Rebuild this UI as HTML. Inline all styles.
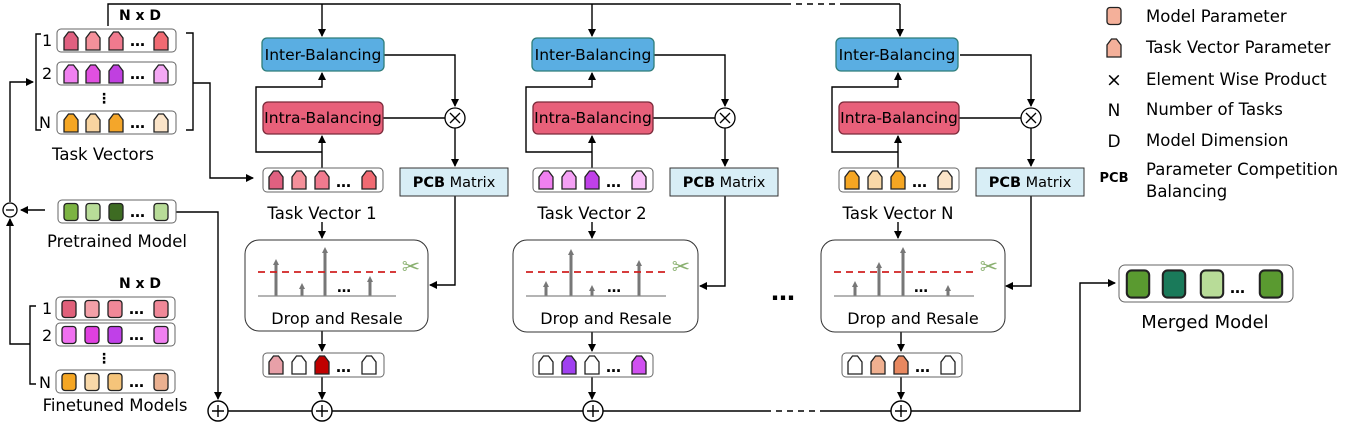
<!DOCTYPE html>
<html><head><meta charset="utf-8"><style>
html,body{margin:0;padding:0;background:#fff;}
svg{display:block;font-family:"DejaVu Sans","Liberation Sans",sans-serif;}
</style></head><body>
<svg width="1357" height="433" viewBox="0 0 1357 433" xmlns="http://www.w3.org/2000/svg">
<defs>
<marker id="a" markerWidth="8" markerHeight="8" refX="7" refY="4" orient="auto" markerUnits="userSpaceOnUse"><path d="M0,0 L8,4 L0,8 Z" fill="#000"/></marker>
<marker id="g" markerWidth="6" markerHeight="6" refX="3" refY="3" orient="auto" markerUnits="userSpaceOnUse"><path d="M0,0 L6,3 L0,6 Z" fill="#777"/></marker>
<symbol id="h" viewBox="0 0 16 20"><path d="M1,19 V7 L5.5,1 H10.5 L15,7 V19 Z" stroke="#222" stroke-width="1.3"/></symbol>
<symbol id="s" viewBox="0 0 16 20"><rect x="1" y="1.5" width="14" height="17" rx="3" stroke="#222" stroke-width="1.3"/></symbol>
</defs>
<g fill="none" stroke="#000" stroke-width="1.4">
<path d="M108,26 V4 H785"/><path d="M785,4 H840" stroke-dasharray="6,5"/><path d="M840,4 H900"/>
<path d="M41,34 H36 V130 H41"/>
<path d="M10,202 V82 H33" marker-end="url(#a)"/>
<path d="M186,33 H193 V130 H186"/>
<path d="M193,83 H210 V178 H253" marker-end="url(#a)"/>
<path d="M45,210 H21" marker-end="url(#a)"/>
<path d="M176,212 H218 V399" marker-end="url(#a)"/>
<path d="M36,306 H30 V384 H36"/>
<path d="M30,344 H10 V219" marker-end="url(#a)"/>
<path d="M228,411 H312"/><path d="M332,411 H583"/><path d="M603,411 H765"/>
<path d="M765,411 H825" stroke-dasharray="6,5"/><path d="M825,411 H891"/>
<path d="M911,411 H1080 V283 H1115" marker-end="url(#a)"/>
</g>
<circle cx="10" cy="210" r="7" fill="#fff" stroke="#000" stroke-width="1.3"/>
<path d="M6,210 H14" stroke="#000" stroke-width="1.3"/>
<circle cx="218" cy="411" r="10" fill="#fff" stroke="#000" stroke-width="1.4"/>
<path d="M212,411 H224 M218,405 V417" stroke="#000" stroke-width="1.4"/>

<g font-size="16.5" fill="#000">
<text x="140" y="20" font-weight="bold" font-size="14" text-anchor="middle">N x D</text>
<text x="42" y="46" font-size="16">1</text><text x="42" y="79" font-size="16">2</text><text x="39" y="128" font-size="16">N</text>
<text x="103" y="160" text-anchor="middle">Task Vectors</text>
<text x="117" y="247" text-anchor="middle">Pretrained Model</text>
<text x="140" y="288" font-weight="bold" font-size="14" text-anchor="middle">N x D</text>
<text x="42" y="314" font-size="16">1</text><text x="42" y="341" font-size="16">2</text><text x="39" y="388" font-size="16">N</text>
<text x="115" y="411" text-anchor="middle">Finetuned Models</text>
</g>
<g fill="#fff" stroke="#666" stroke-width="1">
<rect x="57" y="29" width="119" height="23" rx="4"/><rect x="57" y="62" width="119" height="23" rx="4"/><rect x="57" y="111" width="119" height="23" rx="4"/>
<rect x="58" y="200" width="118" height="23" rx="4"/>
<rect x="56" y="297" width="119" height="23" rx="4"/><rect x="56" y="323" width="119" height="23" rx="4"/><rect x="56" y="370" width="119" height="23" rx="4"/>
</g>
<g>
<use href="#h" x="63" y="31" width="16" height="20" fill="#e06080"/><use href="#h" x="85" y="31" width="16" height="20" fill="#f4909a"/><use href="#h" x="108" y="31" width="16" height="20" fill="#f07a8e"/><use href="#h" x="153" y="31" width="16" height="20" fill="#f06a72"/>
<use href="#h" x="63" y="64" width="16" height="20" fill="#f080f0"/><use href="#h" x="85" y="64" width="16" height="20" fill="#e050e0"/><use href="#h" x="108" y="64" width="16" height="20" fill="#c040e0"/><use href="#h" x="153" y="64" width="16" height="20" fill="#f4a8f4"/>
<use href="#h" x="63" y="113" width="16" height="20" fill="#f5a623"/><use href="#h" x="85" y="113" width="16" height="20" fill="#f8d4a0"/><use href="#h" x="108" y="113" width="16" height="20" fill="#f4a62a"/><use href="#h" x="153" y="113" width="16" height="20" fill="#fbe4c8"/>
<use href="#s" x="63" y="202" width="16" height="20" fill="#7cb342"/><use href="#s" x="85" y="202" width="16" height="20" fill="#b8dc98"/><use href="#s" x="108" y="202" width="16" height="20" fill="#3d6b22"/><use href="#s" x="153" y="202" width="16" height="20" fill="#b8dc98"/>
<use href="#s" x="61" y="299" width="16" height="20" fill="#e0607a"/><use href="#s" x="84" y="299" width="16" height="20" fill="#f4a0a8"/><use href="#s" x="107" y="299" width="16" height="20" fill="#f08898"/><use href="#s" x="153" y="299" width="16" height="20" fill="#f08898"/>
<use href="#s" x="61" y="325" width="16" height="20" fill="#f070f0"/><use href="#s" x="84" y="325" width="16" height="20" fill="#e040e0"/><use href="#s" x="107" y="325" width="16" height="20" fill="#c040e8"/><use href="#s" x="153" y="325" width="16" height="20" fill="#f080f0"/>
<use href="#s" x="61" y="372" width="16" height="20" fill="#f5a623"/><use href="#s" x="84" y="372" width="16" height="20" fill="#f8d8a8"/><use href="#s" x="107" y="372" width="16" height="20" fill="#f5c47a"/><use href="#s" x="153" y="372" width="16" height="20" fill="#eab090"/>
</g>
<g font-size="15" font-weight="bold" fill="#000">
<text x="130" y="46">…</text><text x="130" y="79">…</text><text x="130" y="128">…</text><text x="130" y="217">…</text>
<text x="129" y="314">…</text><text x="129" y="340">…</text><text x="129" y="387">…</text>
<text x="104" y="103" text-anchor="middle" font-size="14">⋮</text><text x="104" y="363" text-anchor="middle" font-size="14">⋮</text>
</g>

<!-- MODULE 1 -->
<g>
<g fill="none" stroke="#000" stroke-width="1.4">
<path d="M322,4 V36" marker-end="url(#a)"/>
<path d="M384,55 H455 V106" marker-end="url(#a)"/>
<path d="M383,118 H445"/>
<path d="M455,128 V166" marker-end="url(#a)"/>
<path d="M322,168 V136" marker-end="url(#a)"/>
<path d="M322,152 H256 V87 H322 V73" marker-end="url(#a)"/>
<path d="M322,222 V238" marker-end="url(#a)"/>
<path d="M455,196 V285 H430" marker-end="url(#a)"/>
<path d="M322,331 V351" marker-end="url(#a)"/>
<path d="M322,377 V399" marker-end="url(#a)"/>
</g>
<rect x="262" y="38" width="122" height="33" rx="5" fill="#5aaee2" stroke="#2e7d7a" stroke-width="1.3"/>
<text x="323" y="60" font-size="15.5" text-anchor="middle">Inter-Balancing</text>
<rect x="263" y="102" width="120" height="32" rx="5" fill="#e8607a" stroke="#7a2a3a" stroke-width="1.3"/>
<text x="323" y="123" font-size="15.5" text-anchor="middle">Intra-Balancing</text>
<circle cx="455" cy="118" r="10" fill="#fff" stroke="#000" stroke-width="1.3"/>
<path d="M450,113 L460,123 M460,113 L450,123" stroke="#000" stroke-width="1.3"/>
<rect x="400" y="168" width="108" height="28" fill="#d8eef6" stroke="#333" stroke-width="1"/>
<text x="454" y="187" font-size="14.5" text-anchor="middle"><tspan font-weight="bold">PCB</tspan> Matrix</text>
<rect x="263" y="168" width="120" height="24" rx="4" fill="#fff" stroke="#666"/>
<rect x="245" y="240" width="183" height="91" rx="14" fill="#fff" stroke="#333" stroke-width="1"/>
<g stroke="#777" stroke-width="3" marker-end="url(#g)"><path d="M276,296 V262"/><path d="M302,296 V286"/><path d="M325,296 V250"/><path d="M370,296 V279"/></g>
<path d="M258,296 H396" stroke="#888" stroke-width="1.2"/>
<path d="M258,272 H396" stroke="#d02020" stroke-width="1.8" stroke-dasharray="7,5"/>
<text x="411" y="274" font-size="22" fill="#8ab070" text-anchor="middle">✂</text>
<text x="337" y="292" font-size="14" font-weight="bold">…</text>
<text x="337" y="324" font-size="16" text-anchor="middle">Drop and Resale</text>
<rect x="263" y="353" width="121" height="24" rx="4" fill="#fff" stroke="#666"/>
<circle cx="322" cy="411" r="10" fill="#fff" stroke="#000" stroke-width="1.4"/>
<path d="M316,411 H328 M322,405 V417" stroke="#000" stroke-width="1.4"/>
</g>
<text x="322" y="219" font-size="16.5" text-anchor="middle">Task Vector 1</text>
<use href="#h" x="268" y="170" width="16" height="20" fill="#e06080"/><use href="#h" x="291" y="170" width="16" height="20" fill="#f4909a"/><use href="#h" x="314" y="170" width="16" height="20" fill="#f07a8e"/><use href="#h" x="361" y="170" width="16" height="20" fill="#f06a72"/>
<text x="336" y="187" font-size="15" font-weight="bold">…</text>
<use href="#h" x="268" y="355" width="16" height="20" fill="#e8a0a8"/><use href="#h" x="291" y="355" width="16" height="20" fill="#fff"/><use href="#h" x="314" y="355" width="16" height="20" fill="#c00000"/><use href="#h" x="361" y="355" width="16" height="20" fill="#fff"/>
<text x="336" y="372" font-size="15" font-weight="bold">…</text>

<!-- MODULE 2 -->
<g transform="translate(270,0)">
<g fill="none" stroke="#000" stroke-width="1.4">
<path d="M322,4 V36" marker-end="url(#a)"/>
<path d="M384,55 H455 V106" marker-end="url(#a)"/>
<path d="M383,118 H445"/>
<path d="M455,128 V166" marker-end="url(#a)"/>
<path d="M322,168 V136" marker-end="url(#a)"/>
<path d="M322,152 H256 V87 H322 V73" marker-end="url(#a)"/>
<path d="M322,222 V238" marker-end="url(#a)"/>
<path d="M455,196 V286 H430" marker-end="url(#a)"/>
<path d="M322,331 V351" marker-end="url(#a)"/>
<path d="M322,377 V399" marker-end="url(#a)"/>
</g>
<rect x="262" y="38" width="122" height="33" rx="5" fill="#5aaee2" stroke="#2e7d7a" stroke-width="1.3"/>
<text x="323" y="60" font-size="15.5" text-anchor="middle">Inter-Balancing</text>
<rect x="263" y="102" width="120" height="32" rx="5" fill="#e8607a" stroke="#7a2a3a" stroke-width="1.3"/>
<text x="323" y="123" font-size="15.5" text-anchor="middle">Intra-Balancing</text>
<circle cx="455" cy="118" r="10" fill="#fff" stroke="#000" stroke-width="1.3"/>
<path d="M450,113 L460,123 M460,113 L450,123" stroke="#000" stroke-width="1.3"/>
<rect x="400" y="168" width="108" height="28" fill="#d8eef6" stroke="#333" stroke-width="1"/>
<text x="454" y="187" font-size="14.5" text-anchor="middle"><tspan font-weight="bold">PCB</tspan> Matrix</text>
<rect x="263" y="168" width="120" height="24" rx="4" fill="#fff" stroke="#666"/>
<rect x="243" y="240" width="185" height="92" rx="14" fill="#fff" stroke="#333" stroke-width="1"/>
<g stroke="#777" stroke-width="3" marker-end="url(#g)"><path d="M276,296 V284"/><path d="M301,296 V252"/><path d="M322,296 V288"/><path d="M369,296 V263"/></g>
<path d="M256,296 H396" stroke="#888" stroke-width="1.2"/>
<path d="M256,272 H396" stroke="#d02020" stroke-width="1.8" stroke-dasharray="7,5"/>
<text x="411" y="274" font-size="22" fill="#8ab070" text-anchor="middle">✂</text>
<text x="337" y="292" font-size="14" font-weight="bold">…</text>
<text x="336" y="324" font-size="16" text-anchor="middle">Drop and Resale</text>
<rect x="263" y="353" width="120" height="24" rx="4" fill="#fff" stroke="#666"/>
<circle cx="323" cy="411" r="10" fill="#fff" stroke="#000" stroke-width="1.4"/>
<path d="M317,411 H329 M323,405 V417" stroke="#000" stroke-width="1.4"/>
<text x="322" y="219" font-size="16.5" text-anchor="middle">Task Vector 2</text>
<use href="#h" x="268" y="170" width="16" height="20" fill="#f080f0"/><use href="#h" x="291" y="170" width="16" height="20" fill="#f4a0f4"/><use href="#h" x="314" y="170" width="16" height="20" fill="#c040e8"/><use href="#h" x="361" y="170" width="16" height="20" fill="#f8c0f8"/>
<text x="336" y="187" font-size="15" font-weight="bold">…</text>
<use href="#h" x="268" y="355" width="16" height="20" fill="#fff"/><use href="#h" x="291" y="355" width="16" height="20" fill="#a040f0"/><use href="#h" x="314" y="355" width="16" height="20" fill="#fff"/><use href="#h" x="361" y="355" width="16" height="20" fill="#d050f0"/>
<text x="336" y="372" font-size="15" font-weight="bold">…</text>
</g>

<text x="783" y="300" font-size="24" font-weight="bold" text-anchor="middle">…</text>

<!-- MODULE 3 -->
<g transform="translate(576,0)">
<g fill="none" stroke="#000" stroke-width="1.4">
<path d="M324,4 V36" marker-end="url(#a)"/>
<path d="M384,55 H455 V106" marker-end="url(#a)"/>
<path d="M383,118 H445"/>
<path d="M455,128 V166" marker-end="url(#a)"/>
<path d="M322,168 V136" marker-end="url(#a)"/>
<path d="M322,152 H256 V87 H322 V73" marker-end="url(#a)"/>
<path d="M322,222 V238" marker-end="url(#a)"/>
<path d="M455,196 V286 H430" marker-end="url(#a)"/>
<path d="M325,331 V351" marker-end="url(#a)"/>
<path d="M325,377 V399" marker-end="url(#a)"/>
</g>
<rect x="260" y="38" width="122" height="33" rx="5" fill="#5aaee2" stroke="#2e7d7a" stroke-width="1.3"/>
<text x="321" y="60" font-size="15.5" text-anchor="middle">Inter-Balancing</text>
<rect x="263" y="102" width="120" height="32" rx="5" fill="#e8607a" stroke="#7a2a3a" stroke-width="1.3"/>
<text x="323" y="123" font-size="15.5" text-anchor="middle">Intra-Balancing</text>
<circle cx="455" cy="118" r="10" fill="#fff" stroke="#000" stroke-width="1.3"/>
<path d="M450,113 L460,123 M460,113 L450,123" stroke="#000" stroke-width="1.3"/>
<rect x="400" y="168" width="108" height="28" fill="#d8eef6" stroke="#333" stroke-width="1"/>
<text x="454" y="187" font-size="14.5" text-anchor="middle"><tspan font-weight="bold">PCB</tspan> Matrix</text>
<rect x="263" y="168" width="120" height="24" rx="4" fill="#fff" stroke="#666"/>
<rect x="245" y="240" width="184" height="92" rx="14" fill="#fff" stroke="#333" stroke-width="1"/>
<g stroke="#777" stroke-width="3" marker-end="url(#g)"><path d="M279,296 V284"/><path d="M303,296 V265"/><path d="M327,296 V250"/><path d="M372,296 V288"/></g>
<path d="M258,296 H398" stroke="#888" stroke-width="1.2"/>
<path d="M258,272 H398" stroke="#d02020" stroke-width="1.8" stroke-dasharray="7,5"/>
<text x="413" y="274" font-size="22" fill="#8ab070" text-anchor="middle">✂</text>
<text x="338" y="292" font-size="14" font-weight="bold">…</text>
<text x="337" y="324" font-size="16" text-anchor="middle">Drop and Resale</text>
<rect x="266" y="353" width="120" height="24" rx="4" fill="#fff" stroke="#666"/>
<circle cx="325" cy="411" r="10" fill="#fff" stroke="#000" stroke-width="1.4"/>
<path d="M319,411 H331 M325,405 V417" stroke="#000" stroke-width="1.4"/>
<text x="322" y="219" font-size="16.5" text-anchor="middle">Task Vector N</text>
<use href="#h" x="268" y="170" width="16" height="20" fill="#f5a623"/><use href="#h" x="291" y="170" width="16" height="20" fill="#f8d8a8"/><use href="#h" x="314" y="170" width="16" height="20" fill="#f5a623"/><use href="#h" x="361" y="170" width="16" height="20" fill="#fbe4c8"/>
<text x="336" y="187" font-size="15" font-weight="bold">…</text>
<use href="#h" x="271" y="355" width="16" height="20" fill="#fff"/><use href="#h" x="294" y="355" width="16" height="20" fill="#f0b090"/><use href="#h" x="317" y="355" width="16" height="20" fill="#e88860"/><use href="#h" x="364" y="355" width="16" height="20" fill="#fff"/>
<text x="339" y="372" font-size="15" font-weight="bold">…</text>
</g>

<rect x="1119" y="265" width="174" height="37" rx="6" fill="#fff" stroke="#666"/>
<use href="#s" x="1124" y="268" width="28" height="32" fill="#5a9a30"/>
<use href="#s" x="1160" y="268" width="28" height="32" fill="#1a7a5a"/>
<use href="#s" x="1198" y="268" width="28" height="32" fill="#b8dc98"/>
<use href="#s" x="1257" y="268" width="28" height="32" fill="#5a9a30"/>
<text x="1230" y="293" font-size="15" font-weight="bold">…</text>
<text x="1205" y="328" font-size="18" text-anchor="middle">Merged Model</text>

<use href="#s" x="1106" y="6" width="16" height="20" fill="#f4b09a"/>
<use href="#h" x="1106" y="38" width="16" height="20" fill="#f4b09a"/>
<g font-size="16.5" fill="#000">
<text x="1146" y="22">Model Parameter</text>
<text x="1146" y="53">Task Vector Parameter</text>
<text x="1114" y="86" text-anchor="middle" font-size="19">×</text><text x="1146" y="85">Element Wise Product</text>
<text x="1114" y="116" text-anchor="middle" font-size="17">N</text><text x="1146" y="115">Number of Tasks</text>
<text x="1114" y="147" text-anchor="middle" font-size="17">D</text><text x="1146" y="146">Model Dimension</text>
<text x="1114" y="182" text-anchor="middle" font-size="13" font-weight="bold">PCB</text>
<text x="1146" y="175">Parameter Competition</text><text x="1146" y="197">Balancing</text>
</g>
</svg>
</body></html>
